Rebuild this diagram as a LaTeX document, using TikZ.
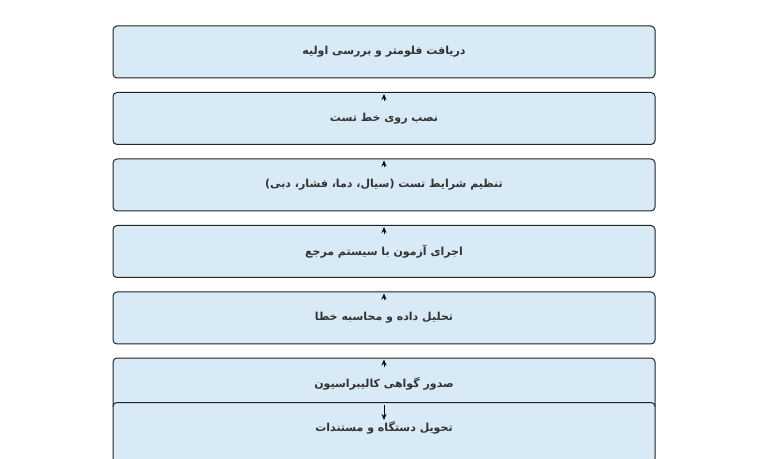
\documentclass[tikz,border=0pt]{standalone}
\usepackage{fontspec}
\newfontfamily\arabicfont[Script=Arabic]{DejaVu Sans}
\TeXXeTstate=1
\usetikzlibrary{arrows.meta}
\definecolor{boxfill}{HTML}{D8EAF5}
\definecolor{boxline}{HTML}{222222}
\tikzset{
  stepbox/.style={draw=boxline, line width=1pt, fill=boxfill, rounded corners=4pt,
    minimum width=542pt, minimum height=52pt, inner sep=0pt,
    font=\arabicfont\bfseries\fontsize{11}{13}\selectfont, text=black!80},
  flow/.style={-{Stealth[length=6pt,width=5pt]}, line width=1pt, black}
}
\begin{document}
\begin{tikzpicture}[x=1pt,y=1pt]
\useasboundingbox (0,0) rectangle (768,458);
\begin{scope}
\clip (0,0) rectangle (768,458);
\node[stepbox] (b1) at (384,458-52) {\beginR دریافت فلومتر و بررسی اولیه\endR};
\node[stepbox] (b2) at (384,458-118.5) {\beginR نصب روی خط تست\endR};
\node[stepbox] (b3) at (384,458-185) {\beginR تنظیم شرایط تست (سیال، دما، فشار، دبی)\endR};
\node[stepbox] (b4) at (384,458-251.5) {\beginR اجرای آزمون با سیستم مرجع\endR};
\node[stepbox] (b5) at (384,458-318) {\beginR تحلیل داده و محاسبه خطا\endR};
\node[stepbox] (b6) at (384,458-384) {\beginR صدور گواهی کالیبراسیون\endR};
\node[stepbox, minimum height=60pt, anchor=north] (b7) at (384,458-402) {};
\node[font=\arabicfont\bfseries\fontsize{11}{13}\selectfont, text=black!80] (t7) at (384,458-428) {\beginR تحویل دستگاه و مستندات\endR};
\foreach \n in {b2,b3,b4,b5,b6}{
  \draw[flow] ([yshift=-9pt]\n.north) -- ([yshift=-2pt]\n.north);
}
\draw[flow] ([yshift=-3pt]b7.north) -- ([yshift=-18pt]b7.north);
\end{scope}
\end{tikzpicture}
\end{document}
